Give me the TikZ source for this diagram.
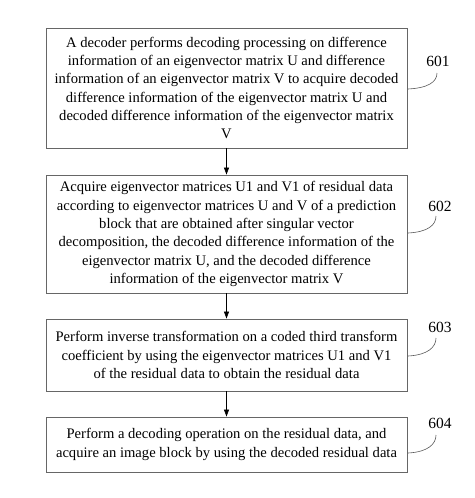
\documentclass[tikz,border=0pt]{standalone}
\usepackage{fontspec}
\setmainfont{Liberation Serif}
\usetikzlibrary{arrows.meta}
\begin{document}
\begin{tikzpicture}[x=1pt,y=-1pt,
  stepbox/.style={draw=black!60, line width=0.8pt, minimum width=361pt, align=center, inner sep=0pt, font=\fontsize{14.6}{18.3}\selectfont},
  flow/.style={-{Triangle[length=7pt,width=5pt]}, line width=0.7pt},
  leader/.style={draw=black!65, line width=0.6pt},
  lbl/.style={font=\fontsize{15.5}{16}\selectfont}]
\useasboundingbox (0,0) rectangle (474,498);
\node[stepbox, minimum height=120pt] (b1) at (226.5,88) {A decoder performs decoding processing on difference\\information of an eigenvector matrix U and difference\\information of an eigenvector matrix V to acquire decoded\\difference information of the eigenvector matrix U and\\decoded difference information of the eigenvector matrix\\V};
\node[stepbox, minimum height=118pt] (b2) at (226.5,234) {Acquire eigenvector matrices U1 and V1 of residual data\\according to eigenvector matrices U and V of a prediction\\block that are obtained after singular vector\\decomposition, the decoded difference information of the\\eigenvector matrix U, and the decoded difference\\information of the eigenvector matrix V};
\node[stepbox, minimum height=72pt] (b3) at (226.5,355) {Perform inverse transformation on a coded third transform\\coefficient by using the eigenvector matrices U1 and V1\\of the residual data to obtain the residual data};
\node[stepbox, minimum height=55pt] (b4) at (226.5,444.5) {Perform a decoding operation on the residual data, and\\acquire an image block by using the decoded residual data};
\draw[flow] (b1.south) -- (b2.north);
\draw[flow] (b2.south) -- (b3.north);
\draw[flow] (b3.south) -- (b4.north);
\node[lbl] (l1) at (438,61) {601};
\node[lbl] (l2) at (440,206) {602};
\node[lbl] (l3) at (440,327) {603};
\node[lbl] (l4) at (440,423) {604};
\coordinate (c1) at (408,89);
\coordinate (c2) at (408,233);
\coordinate (c3) at (408,356);
\coordinate (c4) at (408,453);
\draw[leader] (c1) .. controls (428,88) and (437,82) .. (437,73);
\draw[leader] (c2) .. controls (428,232) and (436,225) .. (436,216);
\draw[leader] (c3) .. controls (428,355) and (436,347) .. (436,338);
\draw[leader] (c4) .. controls (428,452) and (436,444) .. (436,435);
\end{tikzpicture}
\end{document}
